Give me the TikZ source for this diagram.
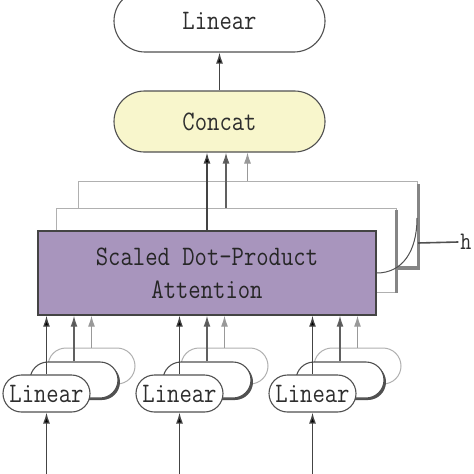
\documentclass[tikz,border=0pt]{standalone}
\usepackage{fontspec}
\usetikzlibrary{shapes.misc,shadows,arrows.meta}
\definecolor{lineg}{HTML}{505050}
\definecolor{concatfill}{HTML}{F8F6CC}
\definecolor{attfill}{HTML}{A895BD}
\definecolor{txt}{HTML}{2E2E2E}
\definecolor{darkarr}{HTML}{444444}
\definecolor{lightarr}{HTML}{999999}
\definecolor{boxlight}{HTML}{B0B0B0}
\definecolor{shadowg}{HTML}{858585}
\newcommand{\tallt}[1]{\scalebox{1.02}[1.2]{#1}}
\tikzset{
  lbl/.style={font=\fontsize{23.5}{31}\selectfont\ttfamily, text=txt},
  pill/.style={rounded rectangle, draw=lineg, line width=1.1pt, fill=white, inner sep=0pt, lbl},
  stackbox/.style={rectangle, draw=boxlight, line width=0.9pt, fill=white, inner sep=0pt},
  attbox/.style={rectangle, draw=darkarr, line width=1.4pt, fill=attfill, inner sep=0pt, align=center, lbl, text=black!85},
  lightpill/.style={rounded rectangle, draw=boxlight, line width=1pt, fill=white, inner sep=0pt},
  backpill/.style={rounded rectangle, draw=lineg, line width=1.1pt, fill=white, inner sep=0pt,
     drop shadow={shadow xshift=2pt, shadow yshift=-2pt, fill=lineg, opacity=1}},
  shadowbar/.style={draw=shadowg, line width=3.5pt},
  arr/.style={-{Latex[length=11pt,width=7pt,fill=black]}, line width=1.3pt, draw=darkarr},
  arrdark/.style={arr, draw=darkarr!85, -{Latex[length=11pt,width=7pt,fill=darkarr!90]}},
  arrlight/.style={arr, draw=lightarr, line width=1.1pt, -{Latex[length=11pt,width=7pt,fill=lightarr]}},
}
\begin{document}
\begin{tikzpicture}[x=1pt,y=-1pt]
\useasboundingbox (0,0) rectangle (474,474);
% top part
\node[pill, minimum width=211pt, minimum height=62pt] (lintop) at (219.5,21) {\tallt{Linear}};
\node[pill, fill=concatfill, minimum width=211pt, minimum height=61pt] (concat) at (219.5,121.5) {\tallt{Concat}};
% stacked attention heads
\node[stackbox, minimum width=339pt, minimum height=87pt] (back) at (247.5,224.5) {};
\draw[shadowbar] (418.5,184) -- (418.5,268) -- (398,268);
\node[stackbox, minimum width=340pt, minimum height=84pt] (mid) at (226,250) {};
\draw[shadowbar] (396.5,210) -- (396.5,293);
\node[attbox, minimum width=338pt, minimum height=84pt] (att) at (207,273) {\tallt{Scaled Dot-Product}\\[2pt]\tallt{Attention}};
% h
\coordinate (bend) at (417,218);
\coordinate (hc) at (418,243);
\node[font=\fontsize{21}{24}\selectfont\ttfamily, text=txt, inner sep=2pt] (h) at (466,242) {\tallt{h}};
\draw[lineg, line width=1pt] (att.east) .. controls (402,273) and (417,252) .. (bend);
\draw[lineg, line width=1.6pt] (hc) -- (h.west);
% arrows on top
\draw[arr] (concat.north) -- (lintop.south);
\draw[arr] (att.north) -- (att.north |- concat.south);
\draw[arrdark] (mid.north) -- (mid.north |- concat.south);
\draw[arrlight] (back.north) -- (back.north |- concat.south);
% bottom groups
\foreach \i/\dx in {1/0,2/133,3/266}{
  \node[lightpill, minimum width=87pt, minimum height=36pt] (lt\i) at (91.5+\dx,366) {};
  \node[backpill, minimum width=88pt, minimum height=36pt] (bk\i) at (74+\dx,380) {};
  \node[pill, minimum width=87pt, minimum height=37pt] (lin\i) at (46.5+\dx,393.5) {\tallt{Linear}};
  \coordinate (in\i) at (46.5+\dx,474);
  \draw[arr] (in\i) -- (lin\i.south);
  \draw[arr] (lin\i.north) -- (lin\i.north |- att.south);
  \draw[arrdark] (bk\i.north) -- (bk\i.north |- att.south);
  \draw[arrlight] (lt\i.north) -- (lt\i.north |- att.south);
}
\end{tikzpicture}
\end{document}
